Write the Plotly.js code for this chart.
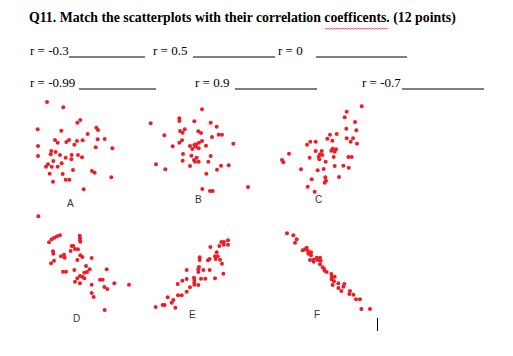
<!DOCTYPE html>
<html><head><meta charset="utf-8">
<script src="https://cdn.plot.ly/plotly-3.0.1.min.js"></script>
<style>html,body{margin:0;padding:0;background:#fff;}#chart{width:513px;height:356px;}</style>
</head><body><div id="chart"></div>
<script>
// Panel data (panel-local units, y up)
const aX=[81,130,181,172,53,124,203,229,234,105,113,139,147,171,188,233,254,163,54,227,277,94,107,92,120,155,174,186,54,137,154,100,84,125,78,95,113,159,216,224,89,128,274,137,148,99,191];
const aY=[324,308,270,262,242,238,228,247,240,210,202,204,210,207,209,212,213,196,192,188,185,177,174,167,165,165,165,158,162,157,152,147,137,140,130,130,130,120,117,112,109,108,98,91,91,85,62];
const bX=[186,118,118,32,163,212,230,120,128,134,175,183,73,216,236,246,126,118,186,177,168,98,150,163,167,157,176,198,280,129,154,170,212,128,162,165,176,205,48,150,243,266,76,231,199,187,210,218,324];
const bY=[302,275,267,260,266,262,250,237,232,242,236,231,224,219,226,226,209,202,207,202,197,191,192,195,190,183,185,193,199,168,163,157,162,148,150,145,145,145,137,132,133,134,122,121,109,63,57,57,69];
const cX=[275,230,224,255,229,259,180,200,172,187,230,249,242,261,121,137,111,188,198,184,194,137,155,150,146,157,148,167,57,119,191,235,245,36,40,194,220,236,93,143,161,207,125,166,168,164,113,134];
const cY=[311,295,278,264,244,239,226,228,214,208,215,215,205,199,205,205,196,184,182,178,175,177,177,167,160,165,152,145,169,157,159,159,159,150,143,132,133,127,122,119,123,99,92,98,88,82,70,55];
const dX=[55,120,111,103,95,87,179,180,180,181,155,160,152,165,174,99,100,132,123,134,181,187,102,93,172,215,198,209,201,193,163,129,138,260,180,187,172,193,165,180,240,248,283,327,215,253,262,215,221,254];
const dY=[341,284,281,277,272,263,283,276,269,265,252,252,237,243,242,236,229,226,221,217,224,219,208,200,210,216,192,182,174,172,180,175,175,182,162,160,155,155,145,140,151,151,140,136,136,129,123,111,99,60];
const eX=[244,252,264,264,251,238,211,230,225,233,227,240,209,204,179,179,246,177,175,175,190,209,140,250,225,183,196,162,163,163,163,175,127,140,113,150,140,114,125,83,100,95,74,68,47,106];
const eY=[264,264,269,256,256,252,249,233,221,221,213,211,213,209,218,210,199,189,182,174,180,180,180,169,155,154,154,157,150,142,136,135,148,153,138,128,115,104,104,98,90,82,75,75,69,67];
const fX=[51,70,80,75,110,105,98,114,115,123,123,120,140,150,131,131,143,152,150,158,162,164,170,184,185,194,185,192,205,188,223,220,205,214,240,238,250,258,270,274,300];
const fY=[320,314,302,292,277,272,269,267,259,263,254,240,247,247,241,235,240,238,227,218,214,208,204,198,190,190,182,176,170,165,168,160,156,147,147,138,136,122,122,93,93];
const panelLabels=["A","B","C","D","E","F"];
const rLabels=["r = -0.3","r = 0.5","r = 0","r = -0.99","r = 0.9","r = -0.7"];
const titleText="Q11. Match the scatterplots with their correlation coefficents. (12 points)";

const W=513,H=356;
const px=x=>x/W, py=y=>1-y/H;
// panel boxes in page pixels: [left, top, right, bottom], local extent [w,h]
const boxes=[[20,100,140,210,360,330],[140,100,260,210,360,330],[270,100,380,210,330,330],
             [20,210,140,330,360,360],[140,210,260,330,360,360],[270,210,390,340,360,390]];
const xs=[aX,bX,cX,dX,eX,fX], ys=[aY,bY,cY,dY,eY,fY];
const red="#ee1c25";
const traces=[];
const layout={width:W,height:H,margin:{l:0,r:0,t:0,b:0},paper_bgcolor:"#fff",plot_bgcolor:"rgba(0,0,0,0)",showlegend:false,annotations:[],shapes:[]};
boxes.forEach((b,i)=>{
  const k=i===0?"":String(i+1);
  traces.push({type:"scatter",mode:"markers",x:xs[i],y:ys[i],xaxis:"x"+k,yaxis:"y"+k,
    marker:{color:red,size:4},hoverinfo:"skip"});
  const ax={visible:false,fixedrange:true,domain:[px(b[0]),px(b[2])],range:[0,b[4]]};
  const ay={visible:false,fixedrange:true,domain:[py(b[3]),py(b[1])],range:[0,b[5]]};
  layout["xaxis"+k]=Object.assign({anchor:"y"+k},ax);
  layout["yaxis"+k]=Object.assign({anchor:"x"+k},ay);
});
// title
layout.annotations.push({xref:"paper",yref:"paper",x:px(27),y:py(18),xanchor:"left",yanchor:"middle",showarrow:false,
  text:"<b>"+titleText+"</b>",font:{family:"Liberation Serif",size:13.8,color:"#000"}});
// squiggle under misspelling
let d="M "+px(325)+" "+py(28);
for(let x=325,s=0;x<388;x+=1.5,s++){d+=" L "+px(x+1.5)+" "+py(28+(s%2?0:1.2));}
layout.shapes.push({type:"path",xref:"paper",yref:"paper",path:d,line:{color:"#e03030",width:0.8}});
// r labels and blanks
const rPos=[[28,50,69,145,57],[151,50,193,275,57],[276,50,316,407,57],[28,82,79,156,89],[193,82,235,317,89],[360,82,402,484,89]];
rLabels.forEach((t,i)=>{
  const p=rPos[i];
  layout.annotations.push({xref:"paper",yref:"paper",x:px(p[0]),y:py(p[1]),xanchor:"left",yanchor:"middle",showarrow:false,
    text:t,font:{family:"Liberation Serif",size:13,color:"#000"}});
  layout.shapes.push({type:"line",xref:"paper",yref:"paper",x0:px(p[2]),x1:px(p[3]),y0:py(p[4]),y1:py(p[4]),line:{color:"#000",width:1}});
});
// panel letters
const lPos=[[70,203],[198,199],[318,199],[76,318],[192,314],[317,314]];
panelLabels.forEach((t,i)=>{
  layout.annotations.push({xref:"paper",yref:"paper",x:px(lPos[i][0]),y:py(lPos[i][1]),xanchor:"center",yanchor:"middle",showarrow:false,
    text:t,font:{family:"Liberation Sans",size:10,color:"#333"}});
});
// text cursor
layout.shapes.push({type:"line",xref:"paper",yref:"paper",x0:px(377.5),x1:px(377.5),y0:py(318),y1:py(331),line:{color:"#000",width:1}});
Plotly.newPlot("chart",traces,layout,{staticPlot:true,displayModeBar:false});
</script></body></html>
